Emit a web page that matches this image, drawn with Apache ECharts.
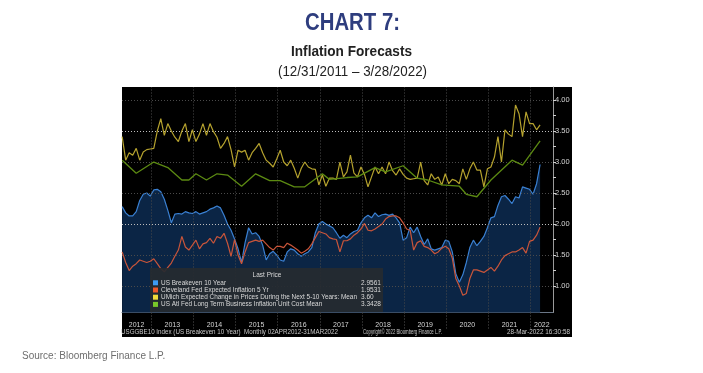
<!DOCTYPE html>
<html><head><meta charset="utf-8">
<script src="https://cdn.jsdelivr.net/npm/echarts@6/dist/echarts.min.js"></script>
<style>html,body{margin:0;padding:0;background:#fff}#c{width:703px;height:373px}</style>
</head><body><div id="c"></div>
<script>
// ---------------- DATA ----------------
const titleText = 'CHART 7:';
const subtitleText = 'Inflation Forecasts';
const dateRangeText = '(12/31/2011 \u2013 3/28/2022)';
const sourceText = 'Source: Bloomberg Finance L.P.';
const legendTitle = 'Last Price';
const seriesNames = [
  'US Breakeven 10 Year',
  'Cleveland Fed Expected Inflation 5 Yr',
  'UMich Expected Change in Prices During the Next 5-10 Years: Mean',
  'US Atl Fed Long Term Business Inflation Unit Cost Mean'
];
const lastPrices = ['2.9561', '1.9531', '3.60', '3.3428'];
const footerLeft = 'USGGBE10 Index (US Breakeven 10 Year)  Monthly 02APR2012-31MAR2022';
const footerMid = 'Copyright\u00a9 2022 Bloomberg Finance L.P.';
const footerRight = '28-Mar-2022 16:30:58';

const firstMonth = '2012-04';   // monthly series start (Apr 2012 .. Mar 2022)
const yearTicks = [2013, 2014, 2015, 2016, 2017, 2018, 2019, 2020, 2021, 2022];
const yTickLabels = [1.0, 1.5, 2.0, 2.5, 3.0, 3.5, 4.0];
const yHighlightLines = [2.0, 3.5];

const breakeven10y = [
  2.28, 2.18, 2.13, 2.13, 2.20, 2.38, 2.48, 2.50, 2.45,
  2.55, 2.56, 2.52, 2.40, 2.22, 2.02, 2.16, 2.17, 2.16, 2.20, 2.18, 2.17,
  2.20, 2.16, 2.18, 2.20, 2.24, 2.26, 2.29, 2.26, 2.14, 2.00, 1.90, 1.76,
  1.60, 1.38, 1.70, 1.94, 1.84, 1.86, 1.80, 1.66, 1.42, 1.52, 1.56, 1.50,
  1.42, 1.40, 1.55, 1.60, 1.58, 1.52, 1.48, 1.52, 1.55, 1.62, 1.86, 2.00,
  2.04, 2.00, 1.97, 1.94, 1.86, 1.77, 1.82, 1.78, 1.84, 1.88, 1.90, 2.02,
  2.10, 2.14, 2.10, 2.18, 2.12, 2.15, 2.16, 2.14, 2.16, 2.10, 2.02, 1.74,
  1.78, 1.95, 1.86, 1.95, 1.80, 1.67, 1.76, 1.60, 1.58, 1.60, 1.62, 1.74,
  1.72, 1.55, 1.20, 1.06, 1.18, 1.38, 1.62, 1.74, 1.65, 1.72, 1.80, 1.94,
  2.10, 2.12, 2.30, 2.44, 2.46, 2.40, 2.33, 2.44, 2.42, 2.60, 2.58, 2.56,
  2.48, 2.65, 2.96
];
const clevelandFed5y = [
  1.55, 1.38, 1.25, 1.32, 1.36, 1.42, 1.40, 1.38, 1.40,
  1.44, 1.36, 1.28, 1.23, 1.30, 1.37, 1.48, 1.58, 1.80, 1.63, 1.58, 1.66,
  1.74, 1.60, 1.68, 1.70, 1.77, 1.69, 1.80, 1.77, 1.85, 1.69, 1.48, 1.75,
  1.50, 1.36, 1.55, 1.70, 1.72, 1.74, 1.72, 1.74, 1.68, 1.62, 1.58, 1.64,
  1.64, 1.62, 1.69, 1.66, 1.62, 1.58, 1.53, 1.56, 1.60, 1.68, 1.78, 1.88,
  1.86, 1.84, 1.78, 1.76, 1.75, 1.55, 1.73, 1.73, 1.76, 1.82, 1.86, 1.92,
  2.01, 1.90, 1.89, 1.92, 1.96, 2.00, 2.08, 2.12, 2.13, 2.13, 2.10, 2.02,
  1.92, 1.90, 1.58, 1.70, 1.73, 1.64, 1.62, 1.58, 1.52, 1.55, 1.61, 1.64,
  1.60, 1.45, 1.12, 1.00, 0.85, 0.88, 1.12, 1.26, 1.26, 1.24, 1.22, 1.26,
  1.30, 1.24, 1.32, 1.42, 1.49, 1.52, 1.55, 1.55, 1.58, 1.62, 1.53, 1.72,
  1.74, 1.82, 1.95
];
const umich5to10y = [
  3.41, 3.03, 3.15, 3.11, 3.22, 3.03, 3.16, 3.20, 3.21,
  3.22, 3.50, 3.70, 3.43, 3.62, 3.50, 3.40, 3.33, 3.50, 3.62, 3.33, 3.52,
  3.33, 3.45, 3.62, 3.43, 3.62, 3.49, 3.40, 3.22, 3.30, 3.41, 3.20, 2.92,
  3.19, 3.16, 3.19, 3.03, 3.15, 3.22, 3.30, 3.15, 3.03, 2.98, 2.92, 3.05,
  3.19, 3.00, 2.94, 3.03, 2.90, 2.74, 2.90, 3.00, 2.92, 2.89, 2.88, 2.63,
  2.79, 2.61, 2.74, 2.74, 2.72, 3.00, 2.76, 2.84, 3.11, 2.82, 2.76, 2.92,
  2.80, 2.60, 2.76, 2.92, 2.81, 2.92, 2.81, 3.00, 2.86, 2.79, 2.89, 2.80,
  2.74, 2.72, 2.73, 2.74, 3.00, 2.70, 2.63, 2.81, 2.72, 2.76, 2.63, 2.81,
  2.65, 2.72, 2.70, 2.65, 2.89, 2.72, 2.89, 3.00, 2.87, 2.87, 2.60, 2.89,
  2.92, 3.08, 3.41, 3.00, 3.52, 3.45, 3.41, 3.92, 3.78, 3.41, 3.81, 3.62,
  3.62, 3.52, 3.60
];
// Atlanta Fed series (vertices)
const atlFedDates = [
  '2012-04', '2012-08', '2013-01', '2013-05', '2013-09', '2013-11', '2014-01', '2014-04',
  '2014-07', '2014-10', '2015-02', '2015-06', '2015-10', '2016-01', '2016-05', '2016-08',
  '2017-01', '2017-03', '2017-08', '2017-11', '2018-04', '2018-07', '2018-12', '2019-04',
  '2019-07', '2019-11', '2020-04', '2020-06', '2020-09', '2021-01', '2021-07', '2021-10', '2022-03'
];
const atlFedValues = [
  3.03, 2.82, 3.00, 2.91, 2.71, 2.71, 2.81, 2.71,
  2.81, 2.79, 2.61, 2.81, 2.70, 2.70, 2.60, 2.60,
  2.81, 2.72, 2.75, 2.76, 2.91, 2.84, 2.94, 2.74,
  2.71, 2.63, 2.61, 2.48, 2.44, 2.71, 3.03, 2.95, 3.34
];

// ---------------- BUILD ----------------
const SANS = '"Liberation Sans", Arial, Helvetica, sans-serif';
const monthOffset = 0.06;
function toT(ym) { const [y, m] = ym.split('-').map(Number); return y + (m - 1) / 12 + monthOffset; }
function monthSeq(start, n) {
  let [y, m] = start.split('-').map(Number); const out = [];
  for (let i = 0; i < n; i++) { out.push(y + '-' + String(m).padStart(2, '0')); m++; if (m > 12) { m = 1; y++; } }
  return out;
}
const months = monthSeq(firstMonth, breakeven10y.length);
const pairs = vals => vals.map((v, i) => [toT(months[i]), v]);

const mctx = document.createElement('canvas').getContext('2d');
function fit(text, font, width) { mctx.font = font; return width / mctx.measureText(text).width; }

const xMin = 2012.306, xMax = 2022.533;
const yMin = 0.573, yMax = 4.21;

const yearStarts = [Math.floor(xMin)].concat(yearTicks);
const yearLabelPos = yearStarts.map(y => (Math.max(y, xMin) + Math.min(y + 1, xMax)) / 2);
const yMinorTicks = [];
for (let v = 1.0; v <= 4.0001; v += 0.25) yMinorTicks.push(+v.toFixed(2));

const gridLines = [];
yTickLabels.forEach(v => {
  const hi = yHighlightLines.includes(v);
  gridLines.push({ yAxis: v, lineStyle: { color: hi ? '#bdbdbd' : '#4a4a4a', type: [1, 2], width: 1 } });
});
yearTicks.forEach(y => gridLines.push({ xAxis: y, lineStyle: { color: '#4a4a4a', type: [1, 2], width: 1 } }));

const colors = { be: '#3a80d2', beFill: '#0b2545', cle: '#c9553a', um: '#b5a22e', atl: '#5c8a12' };
const legendColors = ['#3d9cf5', '#f0592a', '#f2dc3a', '#79c82a'];

const fTitle = 'bold 23px ' + SANS, fSub = 'bold 15px ' + SANS, fDate = '15px ' + SANS;
const fSmall = '6.5px ' + SANS, fFoot = '7px ' + SANS;
const legendScale = Math.min(1, fit(seriesNames[2], fSmall, 196));

const chart = echarts.init(document.getElementById('c'), null, { renderer: 'canvas' });

const legendRows = seriesNames.map((n, i) => ([
  { type: 'rect', shape: { x: 153, y: 280.3 + i * 7.2, width: 5, height: 5 }, style: { fill: legendColors[i] }, z: 101 },
  { type: 'text', x: 161, y: 283 + i * 7.2, scaleX: legendScale, style: { text: n, fill: '#dadada', font: fSmall, textVerticalAlign: 'middle' }, z: 101 },
  { type: 'text', x: 361, y: 283 + i * 7.2, style: { text: lastPrices[i], fill: '#dadada', font: fSmall, textVerticalAlign: 'middle' }, z: 101 }
])).flat();

chart.setOption({
  animation: false,
  backgroundColor: '#ffffff',
  grid: { left: 122, right: 150, top: 87, bottom: 60.5, containLabel: false },
  xAxis: {
    type: 'value', min: xMin, max: xMax,
    axisLine: { show: true, lineStyle: { color: '#6a7686', width: 1 } },
    axisTick: { show: true, customValues: yearTicks, length: 17, lineStyle: { color: '#555', type: [1, 2] } },
    axisLabel: { customValues: yearLabelPos, formatter: v => String(Math.floor(v)), color: '#d4d4d4', fontSize: 7, fontFamily: SANS, margin: 9 },
    splitLine: { show: false }
  },
  yAxis: {
    type: 'value', position: 'right', min: yMin, max: yMax,
    axisLine: { show: true, lineStyle: { color: '#9a9a9a', width: 1 } },
    axisTick: { show: true, customValues: yMinorTicks, length: 3, lineStyle: { color: '#cfcfcf' } },
    axisLabel: { customValues: yTickLabels, formatter: v => v.toFixed(2), color: '#d4d4d4', fontSize: 7.5, fontFamily: SANS, margin: 2 },
    splitLine: { show: false }
  },
  series: [
    {
      name: seriesNames[0], type: 'line', data: pairs(breakeven10y), symbol: 'none', z: 2,
      lineStyle: { color: colors.be, width: 1.2 },
      areaStyle: { color: colors.beFill, opacity: 1, origin: 'start' },
      markLine: { silent: true, symbol: 'none', label: { show: false }, animation: false, data: gridLines, z: 3 }
    },
    { name: seriesNames[1], type: 'line', data: pairs(clevelandFed5y), symbol: 'none', z: 4, lineStyle: { color: colors.cle, width: 1.2 } },
    { name: seriesNames[2], type: 'line', data: pairs(umich5to10y), symbol: 'none', z: 4, lineStyle: { color: colors.um, width: 1.2 } },
    { name: seriesNames[3], type: 'line', data: atlFedDates.map((d, i) => [toT(d), atlFedValues[i]]), symbol: 'none', z: 4, lineStyle: { color: colors.atl, width: 1.3 } }
  ],
  graphic: { elements: [
    { type: 'rect', shape: { x: 122, y: 87, width: 450, height: 250 }, style: { fill: '#000' }, z: -100, silent: true },
    { type: 'text', x: 352.5, y: 23.5, scaleX: fit(titleText, fTitle, 95), style: { text: titleText, fill: '#2e3d7e', font: fTitle, textAlign: 'center', textVerticalAlign: 'middle' } },
    { type: 'text', x: 351.5, y: 51.5, scaleX: fit(subtitleText, fSub, 121), style: { text: subtitleText, fill: '#222', font: fSub, textAlign: 'center', textVerticalAlign: 'middle' } },
    { type: 'text', x: 352.5, y: 72, scaleX: fit(dateRangeText, fDate, 149), style: { text: dateRangeText, fill: '#222', font: fDate, textAlign: 'center', textVerticalAlign: 'middle' } },
    { type: 'text', x: 22, y: 356, style: { text: sourceText, fill: '#6e6e6e', font: '10px ' + SANS, textVerticalAlign: 'middle' } },
    { type: 'text', x: 121, y: 332.5, scaleX: fit(footerLeft, fFoot, 217), style: { text: footerLeft, fill: '#c8c8c8', font: fFoot, textVerticalAlign: 'middle' }, z: 10 },
    { type: 'text', x: 363, y: 332.5, scaleX: fit(footerMid, fFoot, 79), style: { text: footerMid, fill: '#c8c8c8', font: fFoot, textVerticalAlign: 'middle' }, z: 10 },
    { type: 'text', x: 570, y: 332.5, scaleX: fit(footerRight, fFoot, 63), style: { text: footerRight, fill: '#c8c8c8', font: fFoot, textAlign: 'right', textVerticalAlign: 'middle' }, z: 10 },
    { type: 'rect', shape: { x: 150, y: 268, width: 233, height: 44 }, style: { fill: 'rgba(38,42,48,0.92)' }, z: 100 },
    { type: 'text', x: 267, y: 275, style: { text: legendTitle, fill: '#dadada', font: fSmall, textAlign: 'center', textVerticalAlign: 'middle' }, z: 101 }
  ].concat(legendRows) }
});
</script></body></html>
